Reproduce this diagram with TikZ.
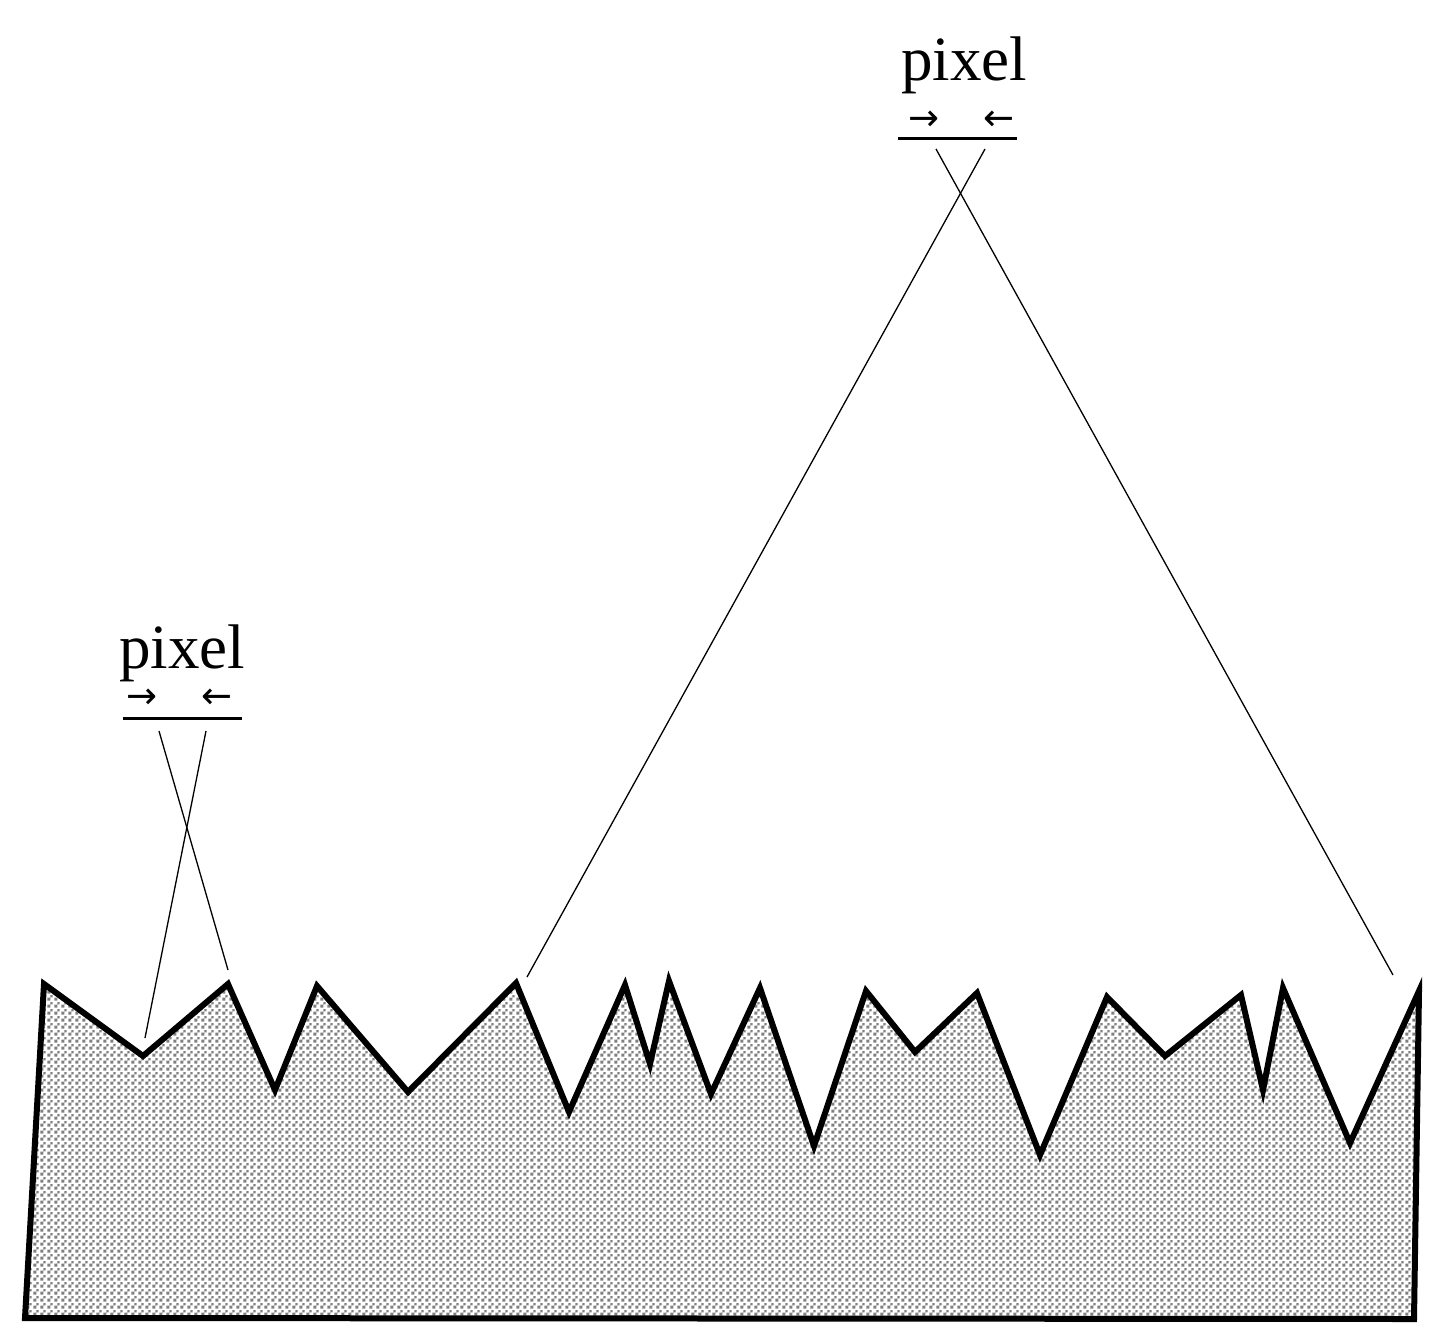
\documentclass[tikz,border=0pt]{standalone}
\usepackage{fontspec}
\setmainfont{Liberation Serif}
\newfontfamily\arrowfont{DejaVu Sans}
\usetikzlibrary{patterns}
\pgfdeclarepatternformonly{gdots}{\pgfpointorigin}{\pgfpoint{6.5pt}{6.5pt}}{\pgfpoint{6.5pt}{6.5pt}}{%
  \pgfpathrectangle{\pgfpoint{0.5pt}{0.5pt}}{\pgfpoint{3pt}{3pt}}%
  \pgfpathrectangle{\pgfpoint{3.7pt}{3.9pt}}{\pgfpoint{2.4pt}{2.4pt}}%
  \pgfusepath{fill}}
\begin{document}
\begin{tikzpicture}[x=1pt,y=-1pt,
  lbl/.style={font=\fontsize{63}{63}\selectfont, inner sep=0pt, anchor=base},
  arr/.style={font=\arrowfont\fontsize{37}{37}\selectfont, inner sep=0pt, anchor=base, text height=18pt, text depth=0pt},
  bar/.style={line width=3pt},
  ray/.style={line width=1.3pt},
  surf/.style={line width=6pt, line join=miter, miter limit=10, pattern=gdots, pattern color=gray}]
\useasboundingbox (0,0) rectangle (1446,1336);
% surface
\draw[surf] (25,1318) -- (44,984) -- (143,1056) -- (228,984) -- (275,1090) -- (317,986) -- (408,1092) -- (516,983) -- (569,1112) -- (625,985) -- (650,1064) -- (669,981) -- (711,1094) -- (760,988) -- (814,1146) -- (866,991) -- (915,1052) -- (977,993) -- (1040,1155) -- (1107,997) -- (1165,1056) -- (1241,995) -- (1263,1090) -- (1283,988) -- (1350,1143) -- (1419,991) -- (1414,1319) -- cycle;
% top group
\node[lbl] (ptop) at (964,80) {pixel};
\node[arr] (rtop) at (924,130) {→};
\node[arr] (ltop) at (999,130) {←};
\coordinate (btl) at (898,138);
\coordinate (btr) at (1017,138);
\draw[bar] (btl) -- (btr);
\coordinate (t1) at (936,149);
\coordinate (t2) at (985,149);
\coordinate (e1) at (1393,975);
\coordinate (e2) at (527,977);
\draw[ray] (t1) -- (e1);
\draw[ray] (t2) -- (e2);
% left group
\node[lbl] (pleft) at (182,668) {pixel};
\node[arr] (rleft) at (142,708) {→};
\node[arr] (lleft) at (217,708) {←};
\coordinate (bll) at (123,718);
\coordinate (blr) at (242,718);
\draw[bar] (bll) -- (blr);
\coordinate (s1) at (159,731);
\coordinate (s2) at (206,731);
\coordinate (f1) at (228,970);
\coordinate (f2) at (145,1038);
\draw[ray] (s1) -- (f1);
\draw[ray] (s2) -- (f2);
\end{tikzpicture}
\end{document}
